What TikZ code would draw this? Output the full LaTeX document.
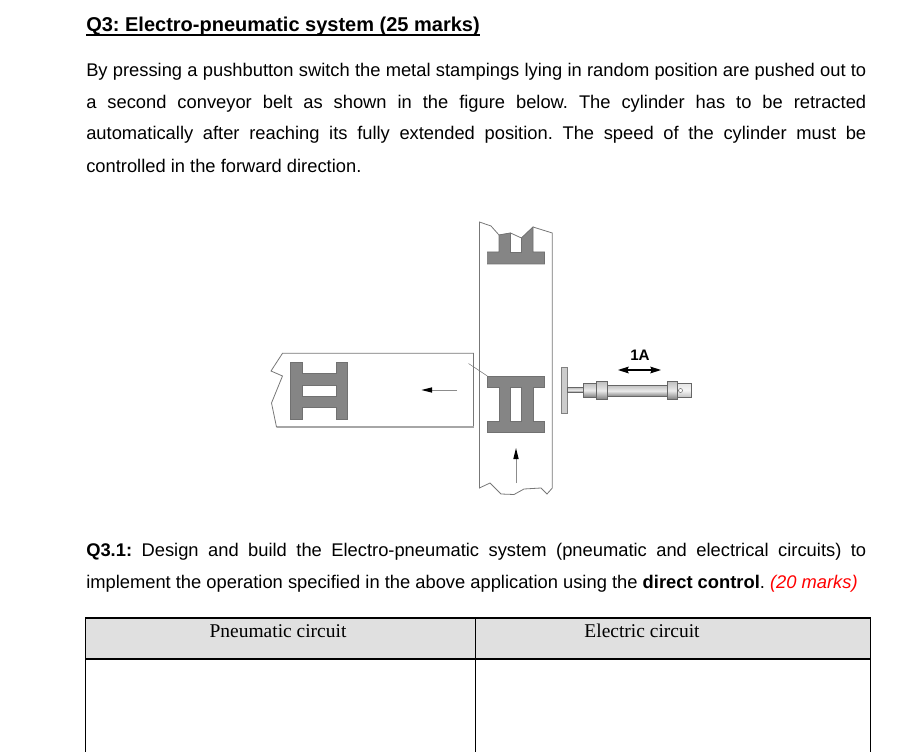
\documentclass[tikz,border=0pt]{standalone}
\usepackage{fontspec}
\usetikzlibrary{arrows.meta}
\setmainfont{Liberation Sans}
\newfontfamily\cellfont{Liberation Serif}
\definecolor{partgray}{HTML}{858585}
\definecolor{edgegray}{HTML}{777777}
\definecolor{headgray}{HTML}{E0E0E0}
\tikzset{
	bodytext/.style={anchor=base west, inner sep=0pt, font=\frenchspacing\fontsize{13.75}{16}\selectfont},
	headtext/.style={anchor=base, inner sep=0pt, font=\cellfont\fontsize{14.6}{16}\selectfont},
	outline/.style={draw=edgegray, line width=0.6pt},
	part/.style={fill=partgray, draw=partgray!85!black, line width=0.4pt},
	metal/.style={draw=black!60, line width=0.5pt, top color=black!25, bottom color=black!50, middle color=black!8},
	flow/.style={draw=black!45, line width=0.6pt},
	tip/.style={fill=black}
}
\begin{document}
\begin{tikzpicture}[x=0.75pt, y=-0.75pt]
	\useasboundingbox (0, 0) rectangle (917, 752);
	%%%%% START %%%%%
	\node[bodytext, font=\frenchspacing\fontsize{15}{16}\selectfont\bfseries] (title) at (86, 32) {Q3: Electro-pneumatic system (25 marks)};
	\draw[line width=1pt] (86, 35) -- (479.5, 35);
	
	\node[bodytext] (introa) at (86, 77) {\hbox to 585pt{By pressing a pushbutton switch the metal stampings lying in random position are pushed out to}};
	\node[bodytext] (introb) at (86, 109) {\hbox to 585pt{a second conveyor belt as shown in the figure below. The cylinder has to be retracted}};
	\node[bodytext] (introc) at (86, 140) {\hbox to 585pt{automatically after reaching its fully extended position. The speed of the cylinder must be}};
	\node[bodytext] (introd) at (86, 173) {controlled in the forward direction.};
	
	% main conveyor
	\draw[outline] (552.3, 233) -- (533, 227) -- (521.5, 238) -- (510.5, 233) -- (499, 235) -- (491, 226) -- (479.4, 222) -- (479.4, 488) -- (490, 483) -- (501, 494) -- (514, 494.5) -- (524, 489) -- (541, 488) -- (547, 494) -- (552.3, 488) -- cycle;
	
	% second conveyor
	\draw[outline] (473.5, 353.3) -- (282.5, 353.3) -- (271, 371) -- (282.5, 376) -- (271.5, 403) -- (276.5, 427) -- (473.5, 427) -- cycle;
	\draw[draw=black!35, line width=0.8pt] (276.5, 427) -- (473.5, 427);
	\draw[outline, line width=0.4pt] (468.5, 363.5) -- (487.3, 376);
	
	% stampings
	\draw[part] (487.3, 252) -- (499, 252) -- (499, 235) -- (510.5, 233) -- (510.5, 252.5) -- (521.5, 252.5) -- (521.5, 238) -- (533, 227) -- (533, 252) -- (544.5, 252) -- (544.5, 264) -- (487.3, 264) -- cycle;
	\draw[part] (487.3, 376) -- (544.5, 376) -- (544.5, 387.3) -- (533, 387.3) -- (533, 421.7) -- (544.5, 421.7) -- (544.5, 432.7) -- (487.3, 432.7) -- (487.3, 421.7) -- (499, 421.7) -- (499, 387.3) -- (487.3, 387.3) -- cycle;
	\draw[part, fill=white] (510.5, 387.3) rectangle (521.5, 421.7);
	\draw[part] (290, 362.3) -- (302.3, 362.3) -- (302.3, 373.3) -- (336, 373.3) -- (336, 362.3) -- (347.3, 362.3) -- (347.3, 419.3) -- (336, 419.3) -- (336, 407.7) -- (302.3, 407.7) -- (302.3, 419.3) -- (290, 419.3) -- cycle;
	\draw[part, fill=white] (302.3, 385) rectangle (336, 396);
	
	% flow arrows
	\draw[flow] (457, 390) -- (430, 390);
	\fill[tip] (421.5, 390) -- (432, 387.3) -- (432, 392.7) -- cycle;
	\draw[flow] (516, 483) -- (516, 456);
	\fill[tip] (516, 448) -- (513.3, 459) -- (518.7, 459) -- cycle;
	
	% cylinder
	\draw[draw=black!50, fill=black!20, line width=0.5pt] (561, 367.3) rectangle (567.3, 413.3);
	\draw[metal] (567.3, 387.7) rectangle (583, 392.3);
	\draw[metal] (583, 383.3) rectangle (596, 397.3);
	\draw[metal] (607.5, 385) rectangle (667, 396.7);
	\draw[metal, top color=black!10, bottom color=black!25, middle color=black!4] (677.7, 383.3) rectangle (691.7, 397.3);
	\draw[metal] (596, 381.7) rectangle (607.5, 399.3);
	\draw[metal] (667, 381.7) rectangle (677.7, 399.3);
	\draw[draw=black!60, fill=white, line width=0.4pt] (680.5, 390.5) circle (2);
	\node[inner sep=0pt, font=\fontsize{11.4}{12}\selectfont\bfseries] (label1A) at (640, 355.5) {1A};
	\draw[{Stealth[length=8pt,width=5pt,inset=1pt]}-{Stealth[length=8pt,width=5pt,inset=1pt]}, line width=0.8pt] (618, 370) -- (661, 370);
	
	\node[bodytext] (taska) at (86, 556) {\hbox to 585pt{\textbf{Q3.1:} Design and build the Electro-pneumatic system (pneumatic and electrical circuits) to}};
	\node[bodytext] (taskb) at (86, 588) {implement the operation specified in the above application using the \textbf{direct control}. \textcolor{red}{\textit{(20 marks)}}};
	
	% table
	\fill[headgray] (85.5, 618) rectangle (870.5, 659);
	\draw[line width=0.8pt] (85.5, 752) -- (85.5, 618) -- (870.5, 618) -- (870.5, 752);
	\draw[line width=0.8pt] (85.5, 659) -- (870.5, 659);
	\draw[line width=0.8pt] (475.5, 618) -- (475.5, 752);
	\node[headtext] (pneuhead) at (278, 637.3) {Pneumatic circuit};
	\node[headtext] (elechead) at (642, 637.3) {Electric circuit};
	%%%%% END %%%%%
\end{tikzpicture}
\end{document}
